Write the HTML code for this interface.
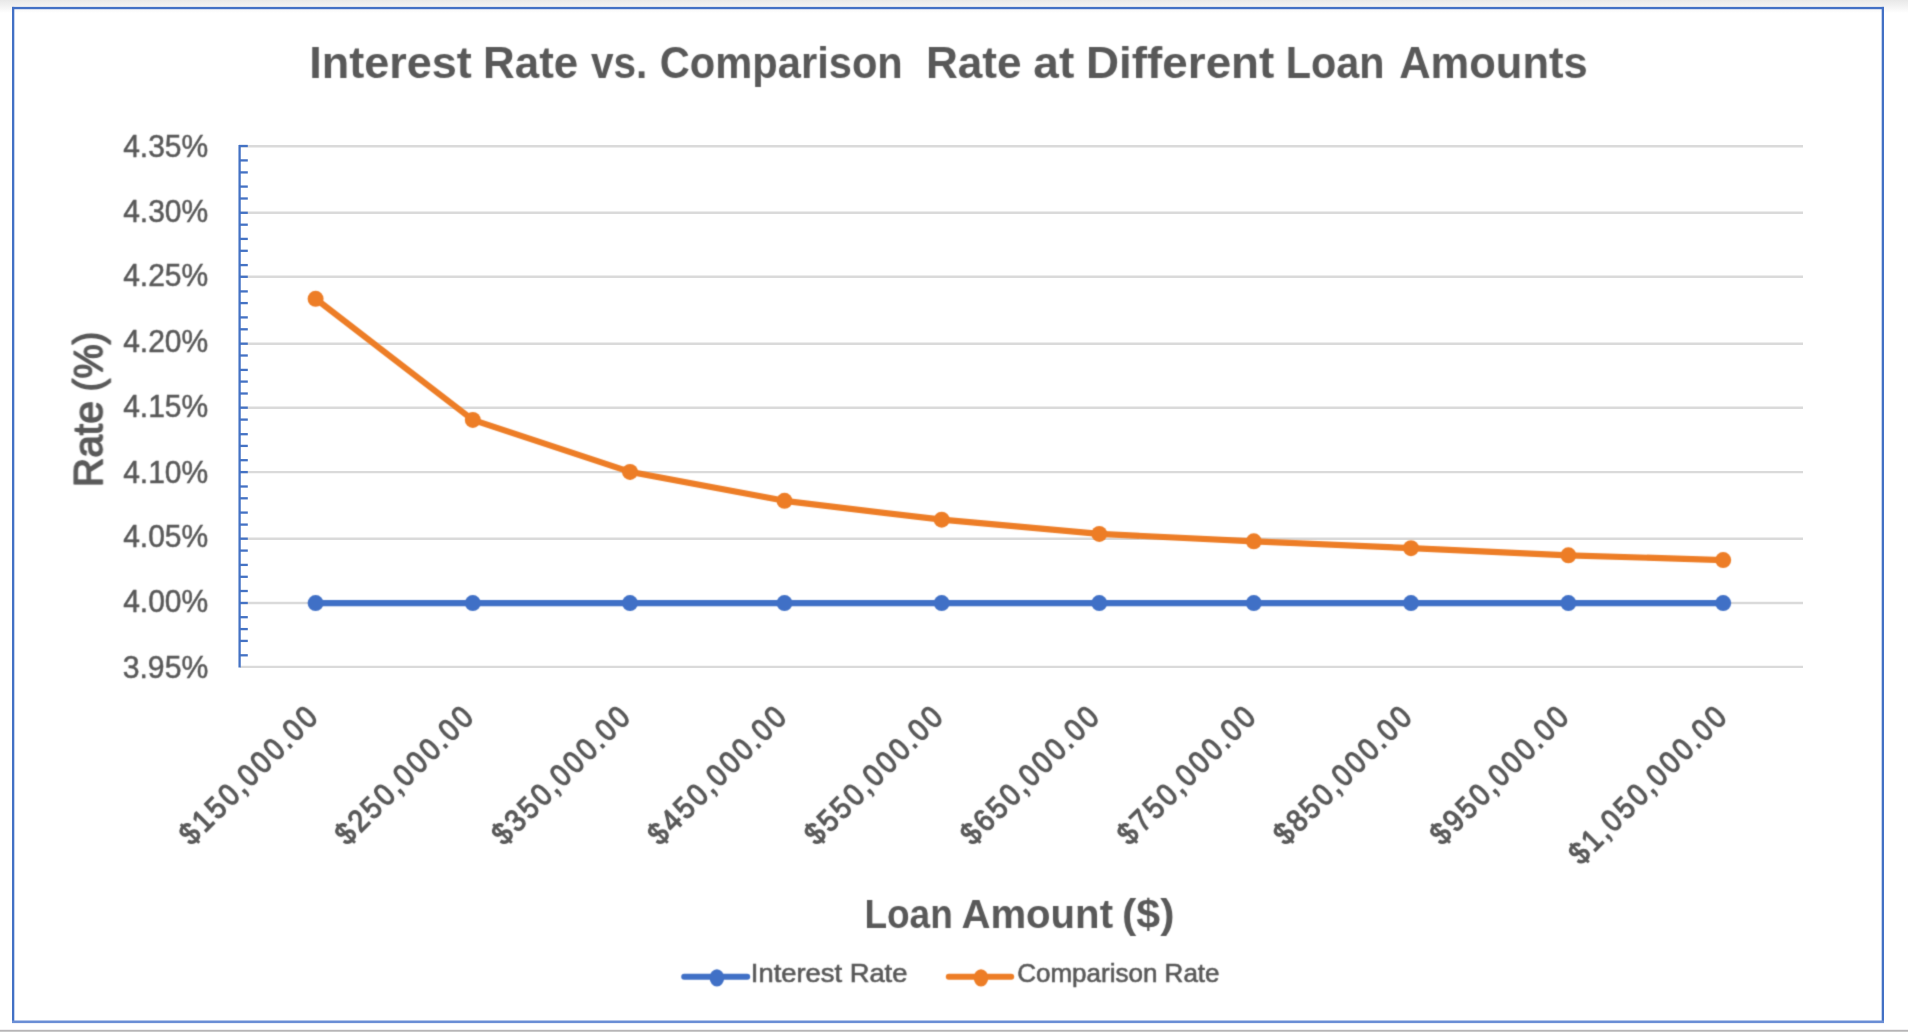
<!DOCTYPE html>
<html lang="en"><head><meta charset="utf-8"><title>Interest Rate vs. Comparison Rate at Different Loan Amounts</title>
<style>html,body{margin:0;padding:0;background:#fff;overflow:hidden}svg{display:block}text{font-family:"Liberation Sans",sans-serif;fill:#595959}</style></head><body>
<svg width="1908" height="1032" viewBox="0 0 1908 1032">
<defs><linearGradient id="tg" x1="0" y1="0" x2="0" y2="1"><stop offset="0" stop-color="#e8e8e8"/><stop offset="0.5" stop-color="#f3f3f3"/><stop offset="1" stop-color="#ffffff"/></linearGradient><filter id="soft" x="0" y="0" width="1908" height="1032" filterUnits="userSpaceOnUse" color-interpolation-filters="sRGB"><feConvolveMatrix order="3" kernelMatrix="1 4 1 4 16 4 1 4 1" edgeMode="duplicate" preserveAlpha="false"/></filter></defs>
<rect x="0" y="0" width="1908" height="1032" fill="#ffffff"/>
<rect x="0" y="1029.8" width="1908" height="1.2" fill="#b7b5b7"/><rect x="0" y="1031" width="1908" height="1" fill="#c9c9c9"/>
<g id="frame">
<rect x="12" y="7" width="1872" height="1016" fill="#ffffff"/>
<rect x="0" y="0" width="1908" height="13" fill="url(#tg)"/>
<rect x="12" y="6.9" width="1872" height="2.3" fill="#4270c5"/>
<rect x="12" y="6.9" width="2.3" height="1016" fill="#4270c5"/>
<rect x="1881.7" y="6.9" width="2.3" height="1016" fill="#4270c5"/>
<rect x="12" y="1020.5" width="1872" height="2.6" fill="#6a8ed5"/>
</g>
<g id="grid" stroke="#dadada" stroke-width="2.4">
<line x1="240" y1="146.2" x2="1803" y2="146.2"/>
<line x1="240" y1="212.8" x2="1803" y2="212.8"/>
<line x1="240" y1="276.8" x2="1803" y2="276.8"/>
<line x1="240" y1="343.7" x2="1803" y2="343.7"/>
<line x1="240" y1="407.7" x2="1803" y2="407.7"/>
<line x1="240" y1="472.1" x2="1803" y2="472.1"/>
<line x1="240" y1="538.7" x2="1803" y2="538.7"/>
<line x1="240" y1="603.0" x2="1803" y2="603.0"/>
<line x1="240" y1="666.9" x2="1803" y2="666.9"/>
</g>
<g id="yaxis" stroke="#4472c4" stroke-width="2.3">
<line x1="239.6" y1="144.9" x2="239.6" y2="667.5"/>
<line x1="239" y1="146.0" x2="247.8" y2="146.0"/>
<line x1="239" y1="160.4" x2="247.8" y2="160.4"/>
<line x1="239" y1="172.4" x2="247.8" y2="172.4"/>
<line x1="239" y1="186.6" x2="247.8" y2="186.6"/>
<line x1="239" y1="198.5" x2="247.8" y2="198.5"/>
<line x1="239" y1="212.8" x2="247.8" y2="212.8"/>
<line x1="239" y1="224.7" x2="247.8" y2="224.7"/>
<line x1="239" y1="238.9" x2="247.8" y2="238.9"/>
<line x1="239" y1="250.8" x2="247.8" y2="250.8"/>
<line x1="239" y1="265.1" x2="247.8" y2="265.1"/>
<line x1="239" y1="276.8" x2="247.8" y2="276.8"/>
<line x1="239" y1="291.4" x2="247.8" y2="291.4"/>
<line x1="239" y1="303.1" x2="247.8" y2="303.1"/>
<line x1="239" y1="317.4" x2="247.8" y2="317.4"/>
<line x1="239" y1="329.3" x2="247.8" y2="329.3"/>
<line x1="239" y1="343.7" x2="247.8" y2="343.7"/>
<line x1="239" y1="355.5" x2="247.8" y2="355.5"/>
<line x1="239" y1="369.9" x2="247.8" y2="369.9"/>
<line x1="239" y1="381.6" x2="247.8" y2="381.6"/>
<line x1="239" y1="393.5" x2="247.8" y2="393.5"/>
<line x1="239" y1="407.7" x2="247.8" y2="407.7"/>
<line x1="239" y1="419.6" x2="247.8" y2="419.6"/>
<line x1="239" y1="434.2" x2="247.8" y2="434.2"/>
<line x1="239" y1="445.9" x2="247.8" y2="445.9"/>
<line x1="239" y1="460.2" x2="247.8" y2="460.2"/>
<line x1="239" y1="472.1" x2="247.8" y2="472.1"/>
<line x1="239" y1="486.5" x2="247.8" y2="486.5"/>
<line x1="239" y1="498.3" x2="247.8" y2="498.3"/>
<line x1="239" y1="512.6" x2="247.8" y2="512.6"/>
<line x1="239" y1="524.6" x2="247.8" y2="524.6"/>
<line x1="239" y1="538.7" x2="247.8" y2="538.7"/>
<line x1="239" y1="550.6" x2="247.8" y2="550.6"/>
<line x1="239" y1="564.9" x2="247.8" y2="564.9"/>
<line x1="239" y1="576.8" x2="247.8" y2="576.8"/>
<line x1="239" y1="591.0" x2="247.8" y2="591.0"/>
<line x1="239" y1="603.0" x2="247.8" y2="603.0"/>
<line x1="239" y1="617.2" x2="247.8" y2="617.2"/>
<line x1="239" y1="629.1" x2="247.8" y2="629.1"/>
<line x1="239" y1="640.9" x2="247.8" y2="640.9"/>
<line x1="239" y1="655.3" x2="247.8" y2="655.3"/>
</g>
<g id="soft-layer" filter="url(#soft)">
<g id="s-interest"><polyline points="315.6,603.1 472.8,603.1 630.0,603.1 784.5,603.1 941.7,603.1 1099.3,603.1 1253.8,603.1 1411.0,603.1 1568.4,603.1 1723.2,603.1" fill="none" stroke="#4070c6" stroke-width="6.2" stroke-linejoin="round" stroke-linecap="round"/>
<circle cx="315.6" cy="603.1" r="8.0" fill="#4070c6"/>
<circle cx="472.8" cy="603.1" r="8.0" fill="#4070c6"/>
<circle cx="630.0" cy="603.1" r="8.0" fill="#4070c6"/>
<circle cx="784.5" cy="603.1" r="8.0" fill="#4070c6"/>
<circle cx="941.7" cy="603.1" r="8.0" fill="#4070c6"/>
<circle cx="1099.3" cy="603.1" r="8.0" fill="#4070c6"/>
<circle cx="1253.8" cy="603.1" r="8.0" fill="#4070c6"/>
<circle cx="1411.0" cy="603.1" r="8.0" fill="#4070c6"/>
<circle cx="1568.4" cy="603.1" r="8.0" fill="#4070c6"/>
<circle cx="1723.2" cy="603.1" r="8.0" fill="#4070c6"/>
</g>
<g id="s-comparison"><polyline points="315.6,298.8 472.8,419.9 630.0,471.9 784.5,500.8 941.7,519.7 1099.3,533.9 1253.8,541.3 1411.0,548.2 1568.4,555.3 1723.2,560.1" fill="none" stroke="#ed7d26" stroke-width="6.2" stroke-linejoin="round" stroke-linecap="round"/>
<circle cx="315.6" cy="298.8" r="8.0" fill="#ed7d26"/>
<circle cx="472.8" cy="419.9" r="8.0" fill="#ed7d26"/>
<circle cx="630.0" cy="471.9" r="8.0" fill="#ed7d26"/>
<circle cx="784.5" cy="500.8" r="8.0" fill="#ed7d26"/>
<circle cx="941.7" cy="519.7" r="8.0" fill="#ed7d26"/>
<circle cx="1099.3" cy="533.9" r="8.0" fill="#ed7d26"/>
<circle cx="1253.8" cy="541.3" r="8.0" fill="#ed7d26"/>
<circle cx="1411.0" cy="548.2" r="8.0" fill="#ed7d26"/>
<circle cx="1568.4" cy="555.3" r="8.0" fill="#ed7d26"/>
<circle cx="1723.2" cy="560.1" r="8.0" fill="#ed7d26"/>
</g>
<g id="title">
<text x="309.17" y="78.30" font-size="44.8" font-weight="bold" textLength="162.69" lengthAdjust="spacingAndGlyphs">Interest</text>
<text x="483.05" y="78.30" font-size="44.8" font-weight="bold" textLength="95.12" lengthAdjust="spacingAndGlyphs">Rate</text>
<text x="590.90" y="78.30" font-size="44.8" font-weight="bold" textLength="56.45" lengthAdjust="spacingAndGlyphs">vs.</text>
<text x="659.73" y="78.30" font-size="44.8" font-weight="bold" textLength="243.10" lengthAdjust="spacingAndGlyphs">Comparison</text>
<text x="925.93" y="78.30" font-size="44.8" font-weight="bold" textLength="95.64" lengthAdjust="spacingAndGlyphs">Rate</text>
<text x="1033.35" y="78.30" font-size="44.8" font-weight="bold" textLength="40.92" lengthAdjust="spacingAndGlyphs">at</text>
<text x="1086.02" y="78.30" font-size="44.8" font-weight="bold" textLength="188.34" lengthAdjust="spacingAndGlyphs">Different</text>
<text x="1285.71" y="78.30" font-size="44.8" font-weight="bold" textLength="98.81" lengthAdjust="spacingAndGlyphs">Loan</text>
<text x="1399.13" y="78.30" font-size="44.8" font-weight="bold" textLength="188.64" lengthAdjust="spacingAndGlyphs">Amounts</text>
</g>
<g id="ylabels" stroke="#595959" stroke-width="0.5">
<text x="123.15" y="156.60" font-size="31.0" font-weight="normal" textLength="85.13" lengthAdjust="spacingAndGlyphs">4.35%</text>
<text x="123.15" y="221.50" font-size="31.0" font-weight="normal" textLength="85.13" lengthAdjust="spacingAndGlyphs">4.30%</text>
<text x="123.15" y="285.50" font-size="31.0" font-weight="normal" textLength="85.13" lengthAdjust="spacingAndGlyphs">4.25%</text>
<text x="123.15" y="351.70" font-size="31.0" font-weight="normal" textLength="85.13" lengthAdjust="spacingAndGlyphs">4.20%</text>
<text x="123.15" y="416.50" font-size="31.0" font-weight="normal" textLength="85.13" lengthAdjust="spacingAndGlyphs">4.15%</text>
<text x="123.15" y="482.70" font-size="31.0" font-weight="normal" textLength="85.13" lengthAdjust="spacingAndGlyphs">4.10%</text>
<text x="123.15" y="547.20" font-size="31.0" font-weight="normal" textLength="85.13" lengthAdjust="spacingAndGlyphs">4.05%</text>
<text x="123.15" y="611.50" font-size="31.0" font-weight="normal" textLength="85.13" lengthAdjust="spacingAndGlyphs">4.00%</text>
<text x="122.69" y="677.90" font-size="31.0" font-weight="normal" textLength="85.59" lengthAdjust="spacingAndGlyphs">3.95%</text>
</g>
<g id="xtitle">
<text x="864.39" y="927.60" font-size="40.5" font-weight="bold" textLength="88.46" lengthAdjust="spacingAndGlyphs">Loan</text>
<text x="961.40" y="927.60" font-size="40.5" font-weight="bold" textLength="151.62" lengthAdjust="spacingAndGlyphs">Amount</text>
<text x="1121.97" y="927.60" font-size="40.5" font-weight="bold" textLength="52.49" lengthAdjust="spacingAndGlyphs">($)</text>
</g>
<g id="ytitle" transform="translate(102.3 600) rotate(-90)" stroke="#595959" stroke-width="1.4" stroke-linejoin="round">
<text x="112.63" y="0.00" font-size="41.2" font-weight="normal" textLength="86.35" lengthAdjust="spacingAndGlyphs">Rate</text>
<text x="208.59" y="0.00" font-size="41.2" font-weight="normal" textLength="59.84" lengthAdjust="spacingAndGlyphs">(%)</text>
</g>
<g id="xlabels" stroke="#595959" stroke-width="1.2">
<text transform="translate(320.3 718.0) rotate(-45) scale(0.9 1)" x="-202.0 -181.6 -161.3 -140.9 -121.4 -110.4 -90.0 -69.7 -50.1 -39.2 -18.8" y="0" font-size="31.0">$150,000.00</text>
<text transform="translate(476.0 718.0) rotate(-45) scale(0.9 1)" x="-202.0 -181.6 -161.3 -140.9 -121.4 -110.4 -90.0 -69.7 -50.1 -39.2 -18.8" y="0" font-size="31.0">$250,000.00</text>
<text transform="translate(632.8 718.0) rotate(-45) scale(0.9 1)" x="-202.0 -181.6 -161.3 -140.9 -121.4 -110.4 -90.0 -69.7 -50.1 -39.2 -18.8" y="0" font-size="31.0">$350,000.00</text>
<text transform="translate(788.9 718.0) rotate(-45) scale(0.9 1)" x="-202.0 -181.6 -161.3 -140.9 -121.4 -110.4 -90.0 -69.7 -50.1 -39.2 -18.8" y="0" font-size="31.0">$450,000.00</text>
<text transform="translate(945.5 718.0) rotate(-45) scale(0.9 1)" x="-202.0 -181.6 -161.3 -140.9 -121.4 -110.4 -90.0 -69.7 -50.1 -39.2 -18.8" y="0" font-size="31.0">$550,000.00</text>
<text transform="translate(1101.6 718.0) rotate(-45) scale(0.9 1)" x="-202.0 -181.6 -161.3 -140.9 -121.4 -110.4 -90.0 -69.7 -50.1 -39.2 -18.8" y="0" font-size="31.0">$650,000.00</text>
<text transform="translate(1258.3 718.0) rotate(-45) scale(0.9 1)" x="-202.0 -181.6 -161.3 -140.9 -121.4 -110.4 -90.0 -69.7 -50.1 -39.2 -18.8" y="0" font-size="31.0">$750,000.00</text>
<text transform="translate(1414.5 718.0) rotate(-45) scale(0.9 1)" x="-202.0 -181.6 -161.3 -140.9 -121.4 -110.4 -90.0 -69.7 -50.1 -39.2 -18.8" y="0" font-size="31.0">$850,000.00</text>
<text transform="translate(1571.1 718.0) rotate(-45) scale(0.9 1)" x="-202.0 -181.6 -161.3 -140.9 -121.4 -110.4 -90.0 -69.7 -50.1 -39.2 -18.8" y="0" font-size="31.0">$950,000.00</text>
<text transform="translate(1729.1 718.0) rotate(-45) scale(0.9 1)" x="-232.5 -212.2 -192.6 -181.6 -161.3 -140.9 -121.4 -110.4 -90.0 -69.7 -50.1 -39.2 -18.8" y="0" font-size="31.0">$1,050,000.00</text>
</g>
<g id="legend">
<line x1="684.2" y1="976.8" x2="747.2" y2="976.8" stroke="#4070c6" stroke-width="6" stroke-linecap="round"/><ellipse cx="716.9" cy="977.8" rx="7.3" ry="8.6" fill="#4070c6"/>
<line x1="948.8" y1="976.8" x2="1011.2" y2="976.8" stroke="#ed7d26" stroke-width="6" stroke-linecap="round"/><ellipse cx="981" cy="977.8" rx="7.3" ry="8.6" fill="#ed7d26"/>
<g stroke="#595959" stroke-width="0.6">
<text x="750.84" y="982.40" font-size="26.0" font-weight="normal" textLength="156.59" lengthAdjust="spacingAndGlyphs">Interest Rate</text>
<text x="1017.20" y="982.40" font-size="26.0" font-weight="normal" textLength="202.37" lengthAdjust="spacingAndGlyphs">Comparison Rate</text>
</g>
</g>
</g>
</svg></body></html>
